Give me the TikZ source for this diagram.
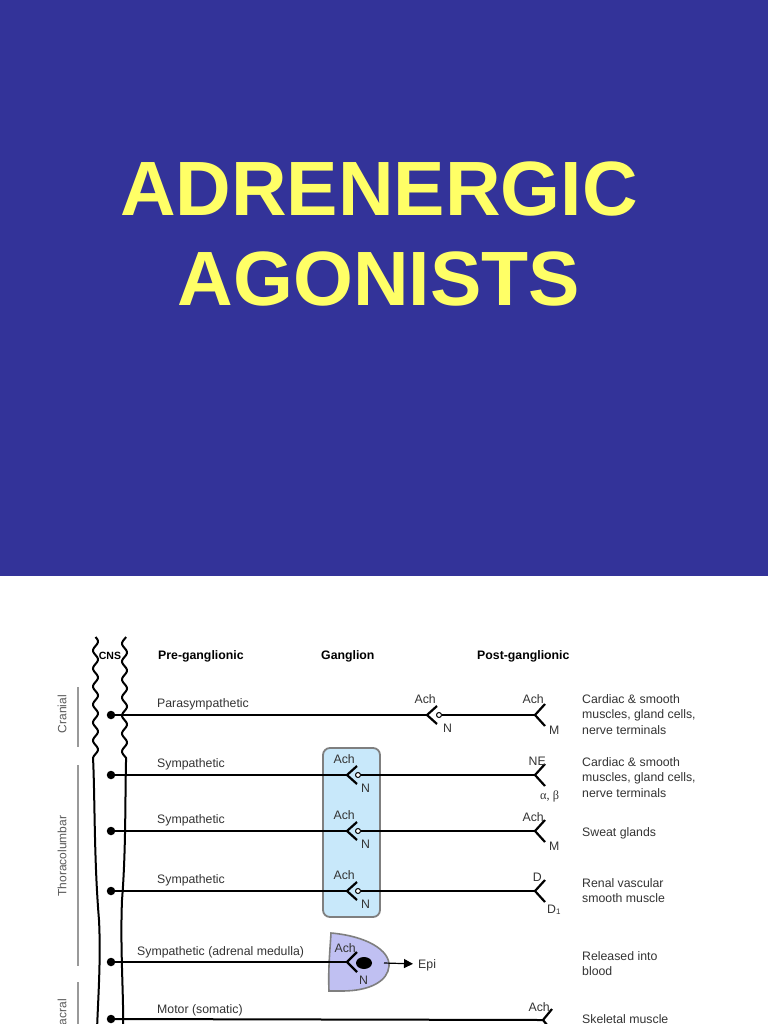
\documentclass[tikz,border=0pt]{standalone}
\usepackage{fontspec}
\setmainfont{Liberation Sans}
\newfontfamily\greekfont{Liberation Serif}
\usetikzlibrary{arrows.meta,calc}
\definecolor{slideblue}{HTML}{333399}
\definecolor{titleyellow}{HTML}{FFFF66}
\definecolor{txtgray}{HTML}{333333}
\definecolor{gangblue}{HTML}{C8E8FA}
\definecolor{adrenalfill}{HTML}{C0C0F2}
\definecolor{bordergray}{HTML}{7F7F7F}
\definecolor{bargray}{HTML}{999999}
\begin{document}
\begin{tikzpicture}[x=1pt,y=-1pt,
  lbl/.style={font=\fontsize{12.3}{15.5}\selectfont, text=txtgray, inner sep=0pt},
  hdr/.style={font=\fontsize{12.3}{14}\selectfont\bfseries, inner sep=0pt},
  side/.style={font=\fontsize{12}{14}\selectfont, text=black!65, inner sep=0pt, rotate=90},
  fiber/.style={line width=2pt},
  armline/.style={line width=2.2pt, line join=miter},
  cnsline/.style={line width=2pt},
  dotnode/.style={circle, fill=black, inner sep=0pt, minimum size=8.5pt},
  ringnode/.style={circle, draw=black, fill=white, line width=1pt, inner sep=0pt, minimum size=5pt},
  sidebar/.style={draw=bargray, line width=1.5pt}]
\clip (0,0) rectangle (768,1024);
\fill[white] (0,0) rectangle (768,1024);
% ---------- title slide ----------
\fill[slideblue] (0,0) rectangle (768,576);
\node[font=\fontsize{77}{90}\selectfont\bfseries, text=titleyellow, anchor=base, inner sep=0pt] (t1) at (379,215) {ADRENERGIC};
\node[font=\fontsize{77}{90}\selectfont\bfseries, text=titleyellow, anchor=base, inner sep=0pt] (t2) at (379,305) {AGONISTS};
% ---------- CNS ----------
\draw[cnsline] plot[variable=\t, domain=0:121, samples=90, smooth] ({95.5+2.5*sin(20*\t)},{637+\t})
  .. controls (95,800) and (94,860) .. (99,920) .. controls (101,960) and (98,1000) .. (97,1030);
\draw[cnsline] plot[variable=\t, domain=0:121, samples=90, smooth] ({124.5+2.5*sin(20*\t+140)},{637+\t})
  .. controls (125,800) and (126,850) .. (122,900) .. controls (120,950) and (124,1000) .. (123,1030);
\node[hdr, font=\fontsize{10.5}{12}\selectfont\bfseries, anchor=base] (cns) at (110,659) {CNS};
\node[hdr, anchor=base west] (hpre) at (158,659) {Pre-ganglionic};
\node[hdr, anchor=base west] (hgang) at (321,659) {Ganglion};
\node[hdr, anchor=base west] (hpost) at (477,659) {Post-ganglionic};
% ---------- side bars ----------
\draw[sidebar] (78,687) -- (78,747);
\node[side] (cranial) at (62,714) {Cranial};
\draw[sidebar] (78,765) -- (78,966);
\node[side] (thoraco) at (62,856) {Thoracolumbar};
\draw[sidebar] (78,982) -- (78,1030);
\node[side] (sacral) at (62,1016) {Sacral};
% ---------- ganglion box & adrenal ----------
\draw[draw=bordergray, fill=gangblue, line width=1.8pt, rounded corners=7pt] (323,748) rectangle (380,917);
\draw[draw=bordergray, fill=adrenalfill, line width=1.6pt]
  (331,933) .. controls (366,936) and (390,950) .. (389,966)
  .. controls (388,981) and (370,991) .. (342,991) -- (329,991)
  .. controls (328,970) and (330,950) .. cycle;
% ---------- row 1 : parasympathetic ----------
\node[dotnode] (d1) at (111,715) {};
\coordinate (g1) at (427,715);
\node[ringnode] (r1) at (439,715) {};
\coordinate (p1) at (535,715);
\draw[fiber] (d1.center) -- (g1);
\draw[fiber] (r1) -- (p1);
\draw[armline] (g1) ++(10,-9) -- (g1) -- ++(10,9);
\draw[armline] (p1) ++(10,-11) -- (p1) -- ++(10,11);
\node[lbl, anchor=base west] (l1) at (157,707) {Parasympathetic};
\node[lbl, anchor=base east] (ga1) at (436,703) {Ach};
\node[lbl, anchor=base west] (gn1) at (443,732) {N};
\node[lbl, anchor=base east] (pa1) at (544,703) {Ach};
\node[lbl, anchor=base west] (pm1) at (549,734) {M};
\node[lbl, anchor=north west, align=left] (o1) at (582,694) {Cardiac \& smooth\\muscles, gland cells,\\nerve terminals};
% ---------- rows 2-4 : sympathetic ----------
\foreach \n/\y in {2/775, 3/831, 4/891}{
  \node[dotnode] (d\n) at (111,\y) {};
  \coordinate (g\n) at (347,\y);
  \node[ringnode] (r\n) at (358,\y) {};
  \coordinate (p\n) at (535,\y);
  \draw[fiber] (d\n.center) -- (g\n);
  \draw[fiber] (r\n) -- (p\n);
  \draw[armline] (g\n) ++(10,-9) -- (g\n) -- ++(10,9);
  \draw[armline] (p\n) ++(10,-11) -- (p\n) -- ++(10,11);
  \node[lbl, anchor=base west] (l\n) at (157,\y-8) {Sympathetic};
  \node[lbl, anchor=base east] (ga\n) at (355,\y-12) {Ach};
  \node[lbl, anchor=base west] (gn\n) at (361,\y+17) {N};
}
\node[lbl, anchor=base east] (pa2) at (546,765) {NE};
\node[lbl, anchor=base west] (pm2) at (540,799) {{\greekfont α, β}};
\node[lbl, anchor=north west, align=left] (o2) at (582,757) {Cardiac \& smooth\\muscles, gland cells,\\nerve terminals};
\node[lbl, anchor=base east] (pa3) at (544,821) {Ach};
\node[lbl, anchor=base west] (pm3) at (549,850) {M};
\node[lbl, anchor=base west] (o3) at (582,836) {Sweat glands};
\node[lbl, anchor=base east] (pa4) at (542,881) {D};
\node[lbl, anchor=base west] (pm4) at (547,913) {D{\fontsize{8}{9}\selectfont\raisebox{-1.5pt}{1}}};
\node[lbl, anchor=north west, align=left] (o4) at (582,878) {Renal vascular\\smooth muscle};
% ---------- row 5 : adrenal medulla ----------
\node[dotnode] (d5) at (111,962) {};
\coordinate (g5) at (347,962);
\draw[fiber] (d5.center) -- (g5);
\draw[armline] (g5) ++(10,-10) -- (g5) -- ++(10,10);
\fill[black] (364,963) ellipse [x radius=8pt, y radius=6pt];
\node[lbl, anchor=base west] (l5) at (137,955) {Sympathetic (adrenal medulla)};
\node[lbl, anchor=base east] (ga5) at (356,952) {Ach};
\node[lbl, anchor=base west] (gn5) at (359,984) {N};
\coordinate (e5) at (384,963);
\node[lbl, anchor=base west] (epi) at (418,968) {Epi};
\draw[line width=1.2pt, -{Triangle[length=9pt,width=9pt]}] (e5) -- ($(epi.west)+(-5,-1)$);
\node[lbl, anchor=north west, align=left] (o5) at (582,951) {Released into\\blood};
% ---------- row 6 : motor ----------
\node[dotnode] (d6) at (111,1019) {};
\coordinate (p6) at (543,1020);
\draw[fiber] (d6.center) -- (p6);
\draw[armline] (p6) ++(9,-11) -- (p6) -- ++(9,11);
\node[lbl, anchor=base west] (l6) at (157,1013) {Motor (somatic)};
\node[lbl, anchor=base east] (pa6) at (550,1011) {Ach};
\node[lbl, anchor=base west] (o6) at (582,1023) {Skeletal muscle};
\end{tikzpicture}
\end{document}
